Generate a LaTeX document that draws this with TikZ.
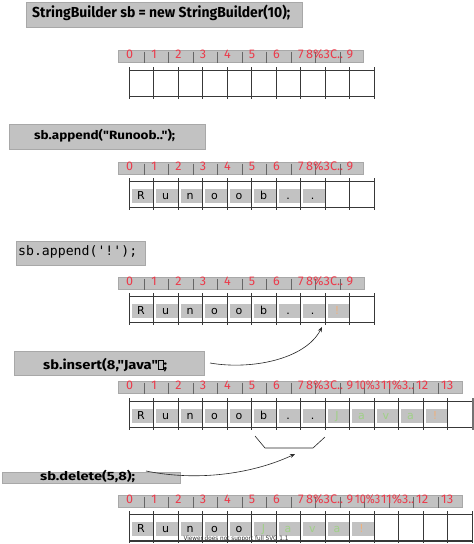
\documentclass[tikz,border=0pt]{standalone}
\usepackage{fontspec}
\usepackage{graphicx}
\usetikzlibrary{arrows.meta}
\newfontfamily\comic[Ligatures=TeXOff]{Fira Sans}
\newfontfamily\dvs[Ligatures=TeXOff]{DejaVu Sans}
\newfontfamily\dvm[Ligatures=TeXOff]{DejaVu Sans Mono}
\newcommand{\fitw}[2]{\resizebox{#1}{\height}{#2}}
\definecolor{boxgray}{RGB}{194,194,194}
\definecolor{boxedge}{RGB}{168,168,168}
\definecolor{idxred}{RGB}{236,58,74}
\definecolor{jgreen}{RGB}{160,208,135}
\definecolor{jorange}{RGB}{238,176,125}
\tikzset{
  title/.style={fill=boxgray, draw=boxedge, line width=0.8pt},
  bar/.style={fill=boxgray, draw=boxedge, line width=0.6pt},
  sepline/.style={draw=black!60, line width=0.5pt},
  cellline/.style={draw=black!78, line width=0.8pt},
  chbox/.style={fill=boxgray, draw=boxedge!70, line width=0.4pt},
  idx/.style={inner sep=0pt, text=idxred, font=\comic\fontsize{12.5}{12.5}\selectfont},
  ch/.style={inner sep=0pt, anchor=base, font=\dvs\fontsize{11}{11}\selectfont},
  ttl/.style={inner sep=0pt, anchor=base west},
  conn/.style={draw=black!85, line width=0.6pt},
}
% #1 top y, #2 number of cells
\newcommand{\cellrow}[2]{%
  \pgfmathsetmacro{\xe}{129+24.5*#2}
  \draw[cellline] (129,#1) -- (\xe,#1);
  \draw[cellline] (129,{#1+26}) -- (\xe,{#1+26});
  \foreach \k in {0,...,#2} {\draw[cellline] ({129+24.5*\k},{#1-3}) -- ({129+24.5*\k},{#1+29});}
}
% #1 top y, #2 list char/colour
\newcommand{\charboxes}[2]{%
  \foreach \c/\col [count=\k from 0] in {#2} {
    \path[chbox] ({129+24.5*\k+3},{#1+8}) rectangle ({129+24.5*\k+24.5},{#1+21});
  }
}
\newcommand{\charletters}[3]{%
  \foreach \c/\col [count=\k from 0] in {#2} {
    \node[ch, text=\col] (#3c\k) at ({129+24.5*\k+12},{#1+18.5}) {\c};
  }
}
% #1 bar top, #2 last x, #3 number of separators-1, #4 long labels (0/1), #5 prefix
\newcommand{\indexbar}[5]{%
  \path[bar] (118.5,#1) rectangle (#2,{#1+12.5});
  \foreach \k in {0,...,#3} {\draw[sepline] ({144+24.5*\k},{#1+1.5}) -- ({144+24.5*\k},{#1+12.5});}
  \foreach \k in {0,...,7} {\node[idx, anchor=base] (#5i\k) at ({129.5+24.5*\k},{#1+8.5}) {\k};}
  \node[idx, anchor=base west] (#5i8) at (306,{#1+8.5}) {\fitw{37pt}{8\%3C..}};
  \node[idx, anchor=base] (#5i9) at (350,{#1+8.5}) {9};
  \ifnum#4=1
    \node[idx, anchor=base west] (#5i10) at (355,{#1+8.5}) {\fitw{25pt}{10\%3}};
    \node[idx, anchor=base west] (#5i11) at (381,{#1+8.5}) {\fitw{33pt}{11\%3..}};
    \node[idx, anchor=base west] (#5i12) at (416,{#1+8.5}) {\fitw{12pt}{12}};
    \node[idx, anchor=base west] (#5i13) at (441,{#1+8.5}) {\fitw{12pt}{13}};
  \fi
}
\begin{document}
\begin{tikzpicture}[x=1pt,y=-1pt]
\useasboundingbox (0,0) rectangle (474,544);
\fill[white] (0,0) rectangle (474,544);

% ---------- section 1
\path[title] (26,2) rectangle (302,27);
\node[ttl, font=\comic\bfseries\fontsize{14.5}{14.5}\selectfont] (t1) at (32,17.5)
  {\fitw{258pt}{StringBuilder sb = new StringBuilder(10);}};
\indexbar{50}{363}{8}{0}{a}
\cellrow{70}{10}

% ---------- section 2
\path[title] (9,124) rectangle (205,149);
\node[ttl, font=\comic\bfseries\fontsize{12}{12}\selectfont] (t2) at (34,139.5)
  {\fitw{141pt}{sb.append("Runoob..");}};
\indexbar{162}{363}{8}{0}{b}
\charboxes{181}{R/black,u/black,n/black,o/black,o/black,b/black,./black,./black}
\cellrow{181}{10}
\charletters{181}{R/black,u/black,n/black,o/black,o/black,b/black,./black,./black}{b}

% ---------- section 3
\path[title] (16,241) rectangle (145,265);
\node[ttl, font=\dvm\fontsize{13}{13}\selectfont] (t3) at (18,255.5)
  {\fitw{119pt}{sb.append('!');}};
\indexbar{277}{364}{8}{0}{c}
\charboxes{296}{R/black,u/black,n/black,o/black,o/black,b/black,./black,./black,!/jorange}
\cellrow{296}{10}
\charletters{296}{R/black,u/black,n/black,o/black,o/black,b/black,./black,./black,!/jorange}{c}

% ---------- section 4
\path[title] (14,351) rectangle (204,375);
\node[ttl, font=\comic\bfseries\fontsize{13}{13}\selectfont] (t4) at (43,369)
  {\fitw{124pt}{sb.insert(8,"Java"{\fboxsep=0pt\fboxrule=0.5pt\fbox{\rule{0pt}{8.5pt}\hspace{4pt}}};}};
\indexbar{381}{462}{12}{1}{d}
\charboxes{401}{R/black,u/black,n/black,o/black,o/black,b/black,./black,./black,J/jgreen,a/jgreen,v/jgreen,a/jgreen,!/jorange}
\cellrow{401}{14}
\draw[draw=black!55, line width=2.4pt] (473,398) -- (473,430);
\charletters{401}{R/black,u/black,n/black,o/black,o/black,b/black,./black,./black,J/jgreen,a/jgreen,v/jgreen,a/jgreen,!/jorange}{d}
\draw[conn] (255,436) -- (265,448) -- (313,448) -- (325,437);

% ---------- section 5
\path[title] (2,472) rectangle (180,483);
\node[ttl, font=\comic\bfseries\fontsize{12}{12}\selectfont] (t5) at (40,480.5)
  {\fitw{95pt}{sb.delete(5,8);}};
\indexbar{495}{462}{12}{1}{e}
\charboxes{514}{R/black,u/black,n/black,o/black,o/black,J/jgreen,a/jgreen,v/jgreen,a/jgreen,!/jorange}
\cellrow{514}{14}
\draw[cellline] (129,541) -- (472,541);
\charletters{514}{R/black,u/black,n/black,o/black,o/black,J/jgreen,a/jgreen,v/jgreen,a/jgreen,!/jorange}{e}
\node[inner sep=0pt, anchor=base, text=black!80, font=\dvs\fontsize{6}{6}\selectfont] (vw) at (236,540.5)
  {\fitw{105pt}{Viewer does not support full SVG 1.1}};

% ---------- connectors
\coordinate (a1s) at (210,363);
\coordinate (a1e) at (322,327);
\draw[conn, -{Stealth[length=5pt,width=4pt]}] (a1s) .. controls (250,370) and (305,360) .. (a1e);
\coordinate (a2s) at (146,471);
\coordinate (a2e) at (295,454);
\draw[conn, -{Stealth[length=5pt,width=4pt]}] (a2s) .. controls (195,481) and (250,475) .. (a2e);
\end{tikzpicture}
\end{document}
